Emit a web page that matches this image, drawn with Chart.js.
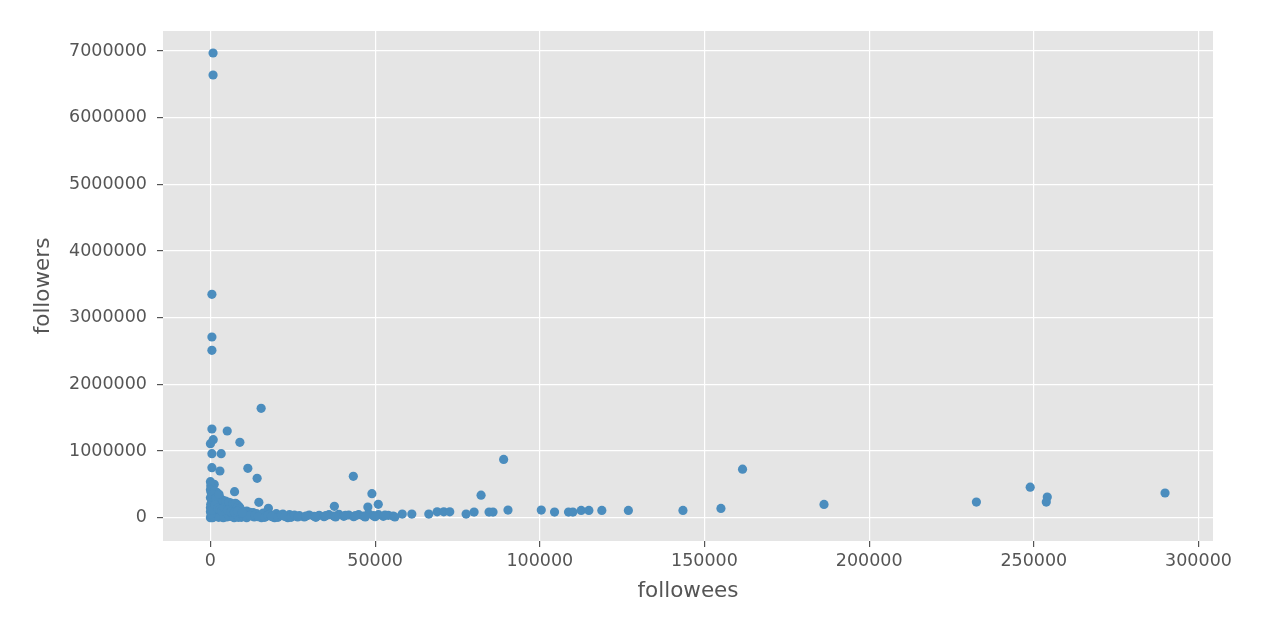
<!DOCTYPE html>
<html>
<head>
<meta charset="utf-8">
<script src="https://cdn.jsdelivr.net/npm/chart.js@4"></script>
<style>
  body { margin: 0; background: #fff; }
</style>
</head>
<body>
<canvas id="chart" width="1262" height="631"></canvas>
<script>
// followees / followers
const followees = [
    800, 800, 450, 450, 450, 15400, 450, 5100, 0, 850, 8940, 450, 3270, 450, 2880,
    11360, 14180, 0, 1150, 7330, 14700, 17600, 43390, 49030, 37630, 47800, 50960,
    58240, 61150, 66300, 68840, 70850, 72660, 77630, 80050, 82170, 89030, 84600,
    85800, 90350, 100450, 104480, 108720, 110050, 112570, 114900, 118840, 126900,
    143470, 155000, 161560, 186300, 232560, 248900, 254080, 253780, 289840,
    // dense cluster near the origin
    100, 600, 200, 900, 0, 400, 1300, 100, 700, 1600, 300, 1100, 0, 500, 1400, 200, 900, 0, 600,
    1900, 2400, 3000, 2200, 3600, 2700, 3300, 1800, 2600, 3500, 2100, 3000, 3900,
    4300, 5200, 6200, 7000, 8000, 8800, 4800, 5800, 6800, 7800, 9200, 4500, 5500, 6500,
    7500, 8500, 4200, 5000, 6000, 7200, 8300, 9400,
    10000, 11000, 12000, 13000, 10500, 11500, 12500, 13300, 9800,
    14000, 15000, 16000, 17000, 18000, 19000, 20000, 21000, 22000, 23000, 24000, 25000,
    15500, 19500, 23500,
    27000, 28500, 30000, 31500, 33000, 34500, 36000, 37500, 39000, 40500, 42000, 43500,
    45000, 46500, 48000, 49500, 51000, 52500, 54000, 55500,
    1000, 2500, 4000, 5500, 7000, 8500, 10000, 11000, 12000, 13500, 14500, 16500, 17500,
    18500, 20500, 21500, 22500, 24500, 25500, 26500,
    0, 300, 800, 1000, 400, 0, 1200, 500, 1600, 1400, 2200, 2800, 3400, 4000, 3800, 2600,
    4600, 5600, 6800, 7600, 8400, 9000, 5200, 6200, 7300, 8200, 9700,
    29000, 32000, 35000, 38000, 41000, 44000, 47000, 50000, 53000, 56000
];
const followers = [
    6970000, 6640000, 3350000, 2710000, 2510000, 1640000, 1330000, 1300000, 1110000,
    1170000, 1130000, 960000, 960000, 750000, 700000, 740000, 590000, 540000, 500000,
    390000, 230000, 140000, 620000, 360000, 170000, 160000, 200000,
    54000, 54000, 54000, 88000, 88000, 88000, 54000, 84000, 338000, 873000, 84000,
    84000, 114000, 114000, 84000, 84000, 84000, 109000, 109000, 109000, 109000,
    109000, 139000, 727000, 199000, 234000, 458000, 310000, 234000, 370000,
    480000, 430000, 380000, 340000, 300000, 260000, 230000, 200000, 170000, 150000,
    130000, 110000, 90000, 70000, 50000, 30000, 10000, 0, 0,
    380000, 320000, 290000, 250000, 240000, 200000, 170000, 120000, 90000, 60000,
    40000, 20000, 0,
    210000, 190000, 220000, 180000, 200000, 160000, 150000, 130000, 110000, 120000,
    100000, 90000, 70000, 60000, 50000, 40000, 30000, 10000, 20000, 0, 15000, 5000,
    90000, 100000, 80000, 75000, 40000, 20000, 50000, 10000, 60000,
    60000, 30000, 70000, 20000, 50000, 10000, 60000, 30000, 55000, 15000, 45000, 25000,
    0, 0, 0,
    30000, 10000, 40000, 20000, 35000, 15000, 45000, 25000, 50000, 20000, 40000, 15000,
    45000, 25000, 60000, 30000, 45000, 20000, 35000, 25000,
    15000, 5000, 10000, 35000, 25000, 5000, 20000, 0, 30000, 35000, 15000, 5000, 35000,
    20000, 5000, 40000, 20000, 5000, 40000, 10000,
    150000, 60000, 250000, 300000, 110000, 420000, 400000, 350000, 290000, 190000,
    140000, 120000, 100000, 160000, 260000, 350000,
    250000, 230000, 200000, 215000, 180000, 140000, 110000, 90000, 80000, 95000, 75000,
    25000, 5000, 30000, 10000, 35000, 30000, 10000, 15000, 40000, 10000
];
const xTicks = [0, 50000, 100000, 150000, 200000, 250000, 300000];
const yTicks = [0, 1000000, 2000000, 3000000, 4000000, 5000000, 6000000, 7000000];

const points = followees.map((x, i) => ({ x: x, y: followers[i] }));

const panelBackground = {
    id: "panelBackground",
    beforeDraw(chart) {
        const { ctx, chartArea: a } = chart;
        ctx.save();
        ctx.fillStyle = "#E5E5E5";
        ctx.fillRect(a.left, a.top, a.right - a.left, a.bottom - a.top);
        ctx.restore();
    },
};

const tickFont = { family: "DejaVu Sans", size: 17.5 };
const titleFont = { family: "DejaVu Sans", size: 21.5 };

new Chart(document.getElementById("chart").getContext("2d"), {
    type: "scatter",
    data: {
        datasets: [{
            data: points,
            backgroundColor: "rgb(75,141,190)",
            borderWidth: 0,
            pointRadius: 4.6,
        }],
    },
    options: {
        responsive: false,
        animation: false,
        layout: { padding: { left: 0, top: 31, right: 49, bottom: 0 } },
        plugins: { legend: { display: false }, tooltip: { enabled: false } },
        scales: {
            x: {
                type: "linear",
                min: -14400,
                max: 304400,
                afterBuildTicks: (s) => { s.ticks = xTicks.map((v) => ({ value: v })); },
                afterFit: (s) => { s.height = 90; },
                border: { display: false },
                grid: { color: "#FFFFFF", lineWidth: 1.2, tickColor: "#555555", tickLength: 6 },
                ticks: { color: "#555555", font: tickFont, padding: 4, maxRotation: 0, callback: (v) => String(v) },
                title: { display: true, text: "followees", color: "#555555", font: titleFont, padding: { top: 0, bottom: 27 } },
            },
            y: {
                type: "linear",
                min: -350000,
                max: 7300000,
                afterBuildTicks: (s) => { s.ticks = yTicks.map((v) => ({ value: v })); },
                afterFit: (s) => { s.width = 163; },
                border: { display: false },
                grid: { color: "#FFFFFF", lineWidth: 1.2, tickColor: "#555555", tickLength: 6 },
                ticks: { color: "#555555", font: tickFont, padding: 10, callback: (v) => String(v) },
                title: { display: true, text: "followers", color: "#555555", font: titleFont, padding: { top: 31, bottom: 0 } },
            },
        },
    },
    plugins: [panelBackground],
});
</script>
</body>
</html>
